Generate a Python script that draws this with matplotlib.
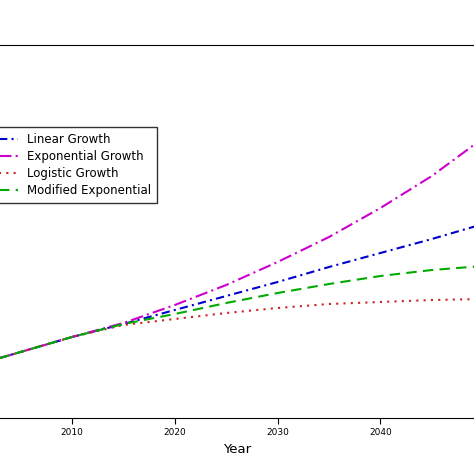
import matplotlib
matplotlib.use('Agg')
import matplotlib.pyplot as plt

years = [2000, 2005, 2010, 2015, 2020, 2025, 2030, 2035, 2040, 2045, 2050]
linear = [51, 66, 81, 94, 108, 122, 136, 151, 165, 179, 194]
exponential = [51, 66, 81, 95, 113, 133, 156, 181, 210, 242, 280]
logistic = [51, 66, 81, 93, 99, 105, 110, 114, 116, 118, 119]
modified = [51, 66, 81, 94, 104, 115, 125, 134, 142, 148, 152]

fig = plt.figure(figsize=(4.74, 4.74), dpi=100)
ax = fig.add_axes([0, 56 / 474, 1, 373 / 474])
ax.plot(years, linear, color='#0000cc', ls=(0, (4, 2, 1, 2)), lw=1.5, label='Linear Growth')
ax.plot(years, exponential, color='#cc00cc', ls=(0, (6, 2, 1, 2)), lw=1.5, label='Exponential Growth')
ax.plot(years, logistic, color='#cc2222', ls=(0, (1, 2.5)), lw=1.5, label='Logistic Growth')
ax.plot(years, modified, color='#00aa00', ls=(0, (5, 3)), lw=1.5, label='Modified Exponential')
ax.set_xlim(2003, 2049.1)
ax.set_ylim(0, 373)
ax.set_yticks([])
ax.set_xticks([2010, 2020, 2030, 2040])
ax.tick_params(axis='x', labelsize=6.5, length=4)
ax.spines['left'].set_visible(False)
ax.spines['right'].set_visible(False)
ax.set_xlabel('Year', fontsize=9.5)
fig.legend(loc='upper right', bbox_to_anchor=(163 / 474, 1 - 121 / 474),
           fontsize=8.5, frameon=True, fancybox=False, edgecolor='black',
           borderpad=0.5, handlelength=2.5, labelspacing=0.35)
fig.savefig('out.png', dpi=100)
